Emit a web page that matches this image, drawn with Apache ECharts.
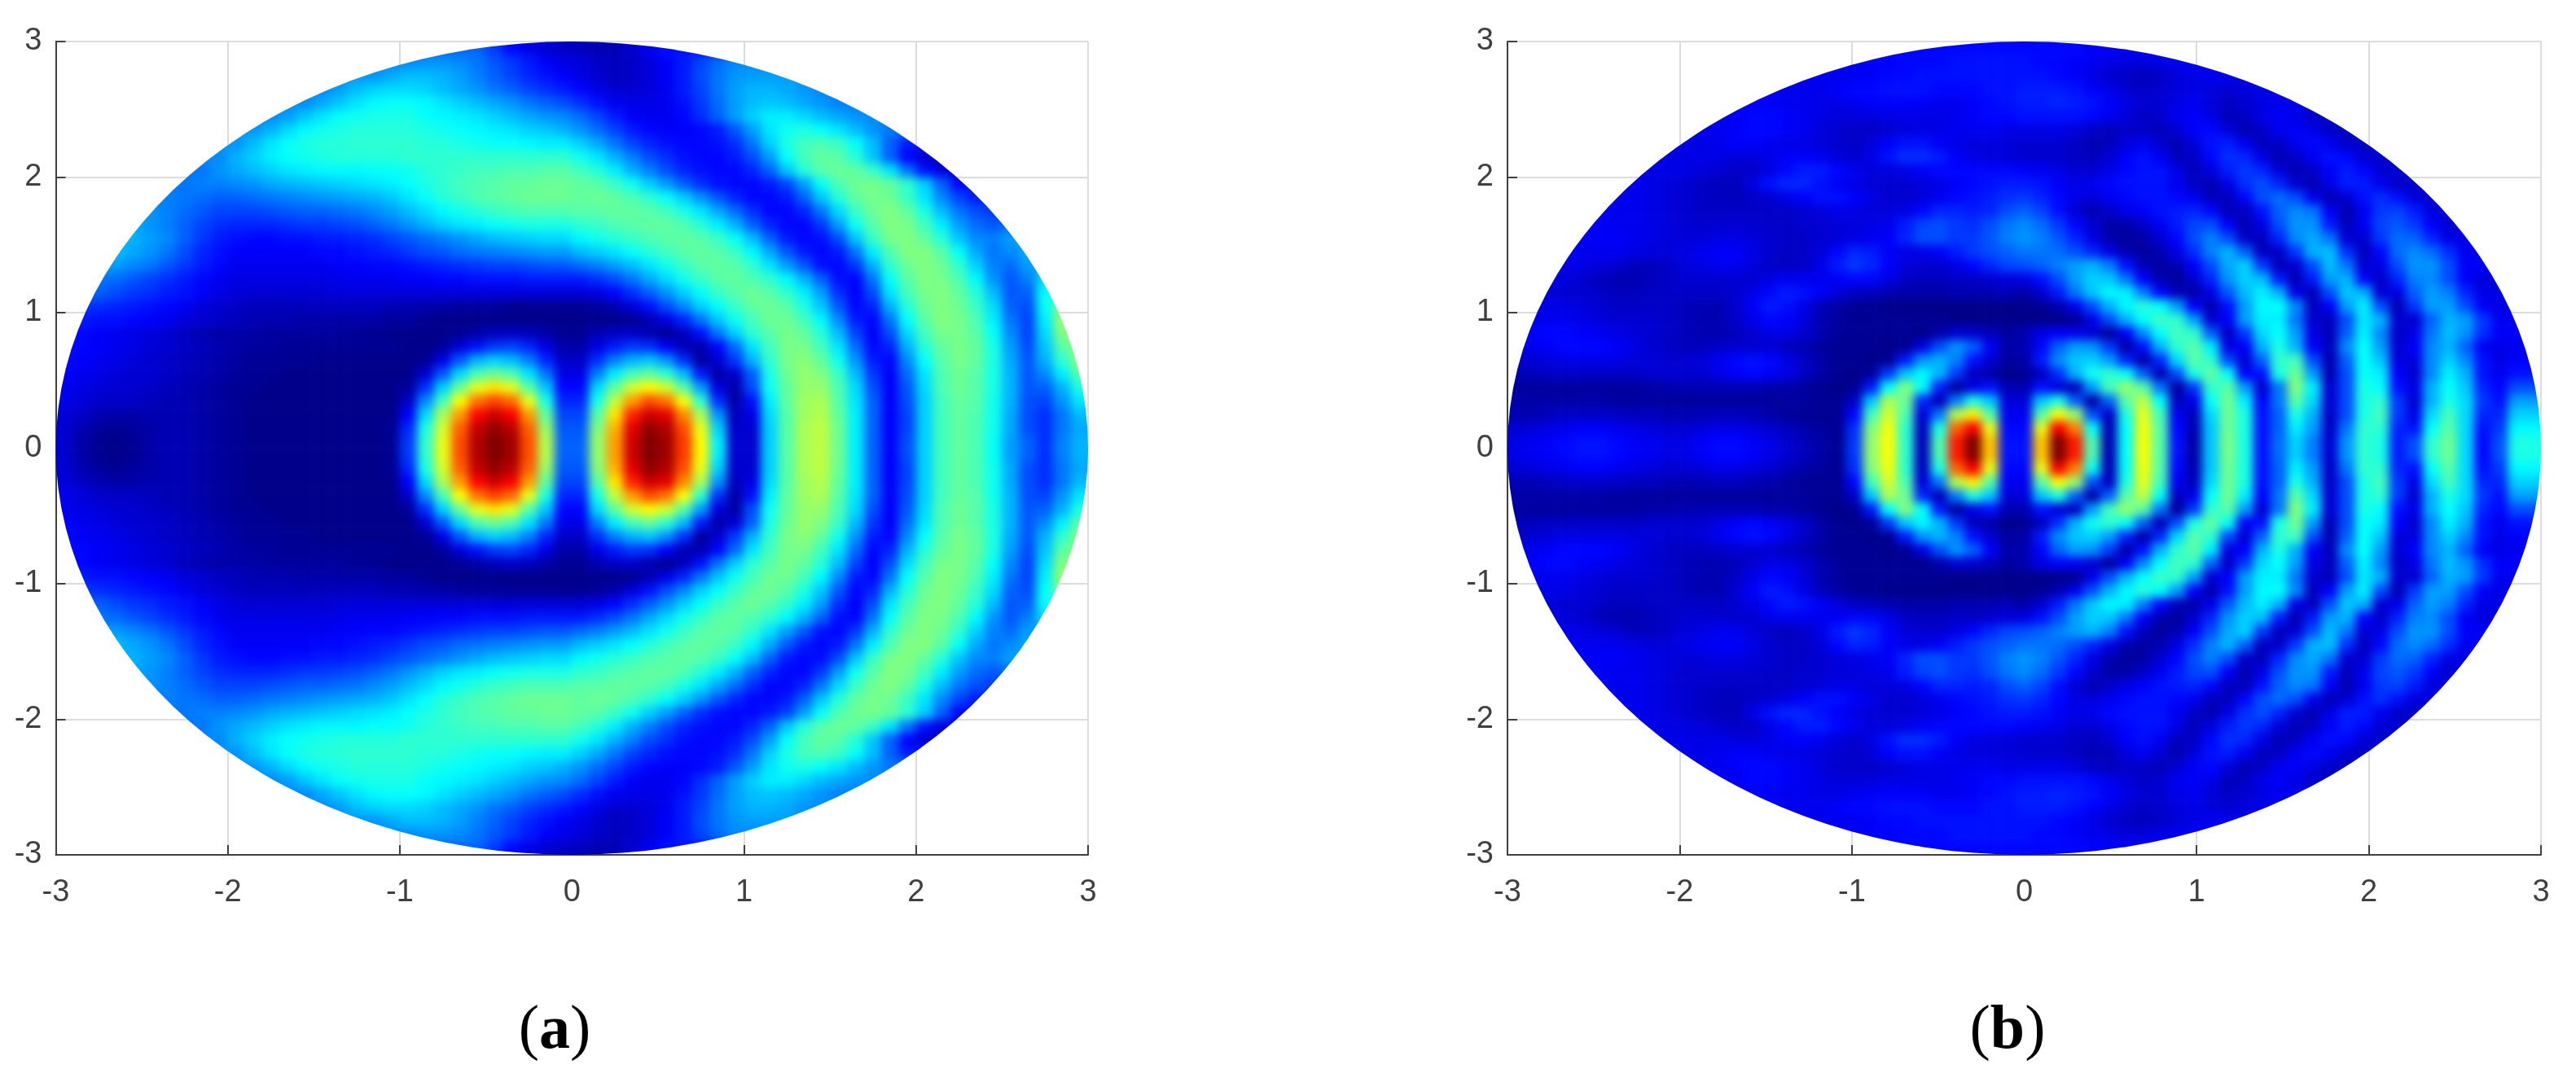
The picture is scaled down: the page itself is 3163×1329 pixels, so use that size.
<!DOCTYPE html>
<html>
<head>
<meta charset="utf-8">
<script src="https://cdn.jsdelivr.net/npm/echarts@6/dist/echarts.min.js"></script>
<style>
html, body { margin: 0; background: #fff; }
#axes, #heat { position: absolute; left: 0; top: 0; width: 3163px; height: 1329px; }
/* the field was read on a 0.1 lattice, the blur takes the cell edges away */
#heat { filter: blur(6px); }
</style>
</head>
<body>
<div id="axes"></div>
<div id="heat"></div>
<script>
// tick values of both axes
var ticks = [-3, -2, -1, 0, 1, 2, 3];
var panelNames = ['a', 'b'];

// field, 0 = navy ... 100 = dark red, cell size 0.1
// rows go from y=2.95 down to y=0.05, each row is [cells left of x=0, cells right of x=0]
// the lower half of both panels mirrors these rows
var rowsA = [
  [[22,18,13,10,8,7],[6,5,5,8,11,14]],
  [[26,27,27,26,24,21,18,15,12,10],[9,7,6,7,9,12,15,19,23,26]],
  [[27,29,31,31,30,28,25,22,19,16,14,12],[10,8,6,7,9,12,15,20,24,27,28,28]],
  [[26,28,31,33,34,34,33,31,29,27,24,22,19,17,15],[13,10,8,8,9,11,15,19,24,28,30,30,29,27,26]],
  [[26,29,32,35,37,38,38,37,35,33,31,29,27,24,22,20],[17,14,11,10,10,11,14,18,23,28,31,32,31,29,27,25]],
  [[26,28,32,35,38,39,40,40,40,38,37,36,35,33,31,29,27,26],[23,19,15,12,11,11,13,17,22,28,33,36,36,34,31,29,27,26]],
  [[27,30,34,37,39,40,41,41,41,41,40,39,38,37,36,35,33,32,30],[27,23,19,15,13,12,12,13,15,21,28,35,39,40,38,35,31,27,24]],
  [[27,31,35,38,40,41,41,42,42,42,42,41,41,40,39,38,38,37,36,36],[33,29,24,19,16,14,13,13,14,17,24,33,40,44,45,43,38,31,22,15]],
  [[26,30,33,36,38,39,40,41,41,41,41,42,42,42,42,42,42,42,42,42,42],[39,35,30,25,20,17,14,13,13,15,20,28,38,44,47,46,41,32,22,13,8]],
  [[24,27,29,31,33,35,36,37,37,37,38,38,39,41,42,43,44,44,45,45,46,46],[44,41,36,30,25,20,16,14,13,13,16,22,32,41,46,48,47,43,35,24,14,9]],
  [[24,25,25,26,27,29,30,31,32,33,34,35,36,38,40,42,44,45,46,47,47,48,48],[47,46,43,39,33,28,22,17,14,13,13,15,19,28,38,45,48,49,47,42,33,22,13]],
  [[25,24,23,22,22,23,24,25,26,27,28,29,30,32,35,38,41,43,45,46,47,48,48,48],[47,48,47,45,42,38,33,27,21,16,13,13,15,22,32,41,47,49,48,43,35,26,19,15]],
  [[27,25,23,21,19,19,19,20,21,22,22,23,24,26,28,31,34,37,39,41,43,44,45,45,45],[46,46,47,47,46,44,40,35,29,23,17,13,13,16,24,34,43,48,50,47,40,31,24,20,18]],
  [[29,27,25,22,19,17,16,16,16,17,18,18,19,20,22,24,27,30,33,35,36,38,39,40,40,40],[42,43,45,46,47,47,45,41,36,30,22,16,13,13,18,28,39,46,50,49,44,36,28,23,21,23]],
  [[30,28,26,22,18,15,14,13,13,14,14,15,15,16,17,19,21,23,25,27,29,31,32,33,34,34],[37,39,41,43,45,46,47,46,43,38,31,22,15,13,14,20,32,43,49,50,47,41,32,26,25,28]],
  [[31,29,27,24,20,16,14,12,12,12,12,12,13,13,14,15,16,18,20,21,23,24,25,26,27,28,28],[31,33,35,38,41,44,46,47,46,43,37,29,21,15,13,15,24,36,45,50,50,46,38,29,24,26,29]],
  [[28,26,24,21,18,15,13,11,11,11,11,11,11,12,12,13,13,14,15,16,17,18,19,19,20,21,21],[23,25,28,31,35,39,43,46,47,46,42,35,28,21,14,13,18,30,42,48,50,48,42,33,25,23,28]],
  [[24,23,21,19,17,15,13,11,10,10,10,10,10,10,10,11,11,11,12,12,13,13,14,14,14,15,15,15],[15,17,20,24,29,34,39,43,46,47,45,42,37,30,22,14,13,24,38,46,50,49,45,37,27,21,25,34]],
  [[22,20,18,17,15,14,12,10,9,8,8,8,8,8,9,9,9,9,9,9,9,9,9,9,9,9,9,9],[9,10,13,17,22,27,33,38,43,46,48,46,42,36,28,17,12,20,35,44,49,50,47,41,31,21,22,38]],
  [[18,17,16,15,14,13,11,9,8,7,6,6,6,6,6,6,6,6,5,5,4,4,3,3,3,2,2,2,2],[2,3,5,9,14,20,26,33,38,43,47,48,46,40,32,21,13,16,30,41,48,50,48,43,34,22,20,38,50]],
  [[15,14,14,13,12,11,9,8,7,6,5,5,5,4,4,4,4,4,3,3,2,1,1,1,1,1,1,1,1],[1,1,1,2,5,10,16,24,32,39,44,48,48,44,37,26,15,13,24,38,46,50,49,45,36,24,19,36,52]],
  [[13,12,11,10,9,8,6,5,4,4,4,3,3,3,3,3,2,2,1,1,1,1,2,4,6,7,6,4,2],[2,5,7,7,5,2,6,14,24,33,42,46,49,47,41,31,19,12,20,34,44,49,49,46,38,26,19,34,50]],
  [[14,13,12,11,10,9,8,7,6,5,4,3,3,2,2,2,2,2,2,2,1,1,3,9,14,18,19,16,10,4],[4,10,15,18,17,12,5,5,13,23,35,44,49,49,44,35,23,13,16,30,41,47,49,47,40,28,20,32,46,52]],
  [[13,12,11,10,9,8,7,6,5,4,3,2,2,2,2,1,1,1,1,1,1,2,10,21,30,33,31,25,16,7],[7,17,25,30,32,27,17,3,8,18,30,42,49,51,47,39,27,15,13,26,38,46,49,47,40,29,21,30,42,50]],
  [[12,11,10,9,8,8,7,6,5,4,3,2,2,1,1,1,1,1,1,1,1,8,21,34,45,48,45,35,24,10],[10,25,36,44,47,42,31,15,4,8,22,40,48,52,50,43,31,18,12,23,35,45,48,46,40,30,21,26,36,46]],
  [[11,10,9,8,8,7,6,5,4,3,2,2,1,1,1,1,1,1,1,1,3,17,33,48,60,65,60,46,32,13],[13,34,47,58,63,58,46,28,9,4,20,39,47,52,52,45,34,20,12,21,34,45,48,46,40,30,21,22,30,40]],
  [[10,9,7,7,7,6,5,5,4,3,2,1,1,1,1,1,1,1,1,1,7,26,44,62,76,81,77,60,40,16],[16,40,56,72,80,76,62,42,17,4,14,36,47,53,54,46,35,22,12,20,33,44,47,46,39,30,20,19,27,35]],
  [[9,7,5,4,4,5,5,5,4,3,2,1,1,1,1,1,1,1,1,1,12,34,54,72,87,92,88,72,47,19],[19,46,65,84,92,90,74,54,27,6,10,34,46,53,55,47,36,22,12,19,33,44,47,45,39,29,20,17,24,31]],
  [[8,5,3,2,3,4,5,5,4,3,2,1,1,1,1,1,1,1,1,2,16,40,58,78,93,98,94,78,52,21],[21,50,70,90,98,95,80,60,33,7,8,33,46,54,56,48,36,22,12,19,33,44,47,45,39,29,20,17,24,29]],
  [[8,4,2,1,2,4,5,5,4,3,2,1,1,1,1,1,1,1,1,2,18,42,60,80,95,100,97,80,55,22],[22,52,72,92,100,97,82,63,36,8,8,33,46,54,56,48,36,22,12,20,33,44,47,45,38,28,22,17,25,30]]
];

var rowsB = [
  [[13,13,13,13,13,13],[13,13,13,13,12,12]],
  [[12,12,12,13,13,13,14,14,14,14],[14,13,13,12,11,10,9,9,10,11]],
  [[11,11,11,12,13,13,14,14,14,14,14,14],[14,14,13,12,10,8,7,6,7,9,10,11]],
  [[12,11,11,11,12,13,13,14,14,14,13,13,13,14,14],[15,15,15,14,12,10,8,7,8,9,10,9,8,9,10]],
  [[12,12,11,11,10,10,11,12,12,12,12,11,11,12,13,14],[15,15,16,15,14,12,10,8,8,10,11,9,7,8,10,11]],
  [[12,12,13,13,12,11,10,9,9,9,10,10,10,10,11,12,13,13],[14,14,14,14,13,11,9,7,8,11,12,10,6,7,10,12,10,7]],
  [[11,11,12,13,13,12,11,9,8,7,7,8,9,10,10,11,11,11,10],[10,10,10,9,7,6,7,7,6,8,12,13,9,5,7,11,12,10,7]],
  [[10,10,11,12,12,11,10,10,9,8,7,9,12,14,14,12,10,9,9,9],[8,8,8,7,5,6,9,11,8,5,9,14,15,11,6,7,11,13,11,7]],
  [[10,10,10,10,9,9,10,12,12,11,9,8,10,14,17,17,15,12,10,9,9],[8,8,8,7,6,8,12,14,11,6,7,13,17,16,10,5,7,11,14,13,8]],
  [[10,10,10,9,8,7,7,10,13,15,15,13,11,9,9,10,12,13,13,13,13,13],[12,11,10,8,8,10,13,14,14,10,6,9,15,18,16,9,5,7,12,15,13,8]],
  [[11,10,9,8,7,6,6,10,14,16,16,14,12,10,9,8,8,9,10,12,13,14,15],[15,14,12,10,11,13,14,14,14,11,7,5,10,17,20,16,8,5,10,15,15,11,7]],
  [[11,11,10,9,8,7,6,6,7,8,10,12,14,14,12,10,8,8,9,11,13,14,15,17],[18,16,13,10,9,11,13,14,14,13,11,6,6,13,20,23,20,11,5,8,14,17,14,9]],
  [[12,11,11,10,9,8,7,7,7,7,7,7,8,9,10,10,9,9,10,13,16,16,15,16,20],[22,19,14,8,5,7,10,12,14,15,16,13,6,6,14,22,26,24,12,5,11,18,19,15,9]],
  [[13,12,11,11,10,9,8,8,8,8,8,7,7,8,8,9,9,10,11,15,19,20,18,17,20,24],[26,23,18,13,8,4,4,7,11,15,19,20,12,5,10,20,27,27,15,6,11,19,21,18,12,8]],
  [[12,12,12,11,10,9,9,9,10,10,9,8,7,7,8,9,10,11,12,16,20,20,18,18,21,25],[27,25,21,16,10,5,3,4,8,13,20,25,20,7,6,16,26,29,24,8,8,18,23,22,16,10]],
  [[11,11,11,11,10,9,9,10,11,12,12,10,8,7,7,9,13,16,15,12,10,10,12,15,18,20,22],[24,24,23,20,16,10,5,3,5,10,17,25,30,22,6,7,18,30,31,17,6,13,23,26,23,17,11]],
  [[10,10,9,8,6,6,7,9,10,11,11,9,7,6,7,10,15,18,16,12,9,8,8,10,13,16,19],[20,22,25,28,30,25,14,6,3,5,12,20,29,33,18,6,8,20,31,24,8,10,20,27,27,20,12]],
  [[10,9,8,6,5,5,6,7,8,8,8,8,8,10,11,11,11,12,13,13,10,7,6,6,7,7,8,9],[10,14,20,28,33,32,24,12,5,3,8,16,27,33,31,15,5,15,28,30,13,7,16,25,26,20,12,9]],
  [[9,8,8,7,6,6,7,7,7,7,7,8,10,13,15,14,12,9,7,6,5,4,4,4,5,5,5,6],[4,8,15,24,32,37,36,25,13,6,4,10,21,31,36,30,10,6,20,32,30,8,10,22,28,25,16,10]],
  [[10,10,10,9,8,7,7,7,7,6,5,5,8,12,15,14,10,6,4,2,2,1,1,1,1,1,1,1,1],[1,2,5,11,20,30,37,41,38,28,12,5,14,28,37,38,26,6,12,28,36,20,5,18,28,28,20,12,10]],
  [[11,11,11,10,9,8,8,8,7,6,5,5,7,10,13,12,9,5,3,2,2,2,2,2,2,1,1,1,1],[1,1,1,2,10,20,30,38,43,42,28,8,12,28,36,36,24,8,6,20,35,30,8,8,22,30,28,18,11]],
  [[12,13,13,12,11,10,9,8,7,6,5,5,6,8,10,10,8,5,3,2,2,2,2,1,4,8,8,6,3],[5,10,12,11,8,3,12,26,38,44,42,22,7,18,34,38,28,10,6,22,36,26,7,10,24,31,27,17,12]],
  [[10,11,12,13,13,13,12,10,8,7,6,6,7,8,8,8,6,5,3,2,2,2,1,2,10,20,27,22,12,4],[5,13,22,28,27,18,4,14,30,42,46,36,10,12,30,40,30,12,6,26,38,28,8,12,26,30,22,12,10,11]],
  [[7,8,9,10,10,10,10,9,9,8,8,9,11,13,14,13,10,7,4,2,2,1,2,15,27,30,25,14,8,3],[4,15,26,32,33,28,16,4,16,34,46,42,20,8,22,42,44,20,5,22,38,32,9,9,26,33,26,14,10,12]],
  [[5,6,7,7,7,7,7,7,8,8,8,8,10,12,13,12,10,7,4,2,1,3,18,32,37,30,18,6,4,1],[2,6,17,30,39,42,38,22,5,20,40,47,38,12,14,40,48,28,5,20,38,36,12,8,26,36,30,14,11,14]],
  [[3,3,3,3,3,3,3,3,4,4,5,5,5,5,5,4,4,3,2,1,2,15,38,50,38,15,3,10,14,5],[5,14,9,6,28,44,52,46,24,3,18,42,46,28,8,24,50,36,8,20,40,38,14,10,30,38,32,16,13,20]],
  [[4,4,4,4,4,4,3,3,3,3,3,3,3,3,3,3,3,3,2,2,7,32,54,48,16,5,25,40,32,9],[9,32,40,22,4,22,46,56,38,6,10,38,48,36,12,24,46,34,8,20,40,42,18,8,30,40,34,18,14,28]],
  [[5,5,6,7,7,7,7,6,6,5,5,5,6,6,5,4,3,2,2,2,13,44,58,45,9,24,55,64,46,11],[11,46,62,52,20,7,40,60,44,11,6,34,48,40,14,22,40,30,7,20,40,44,18,10,34,44,34,16,16,33]],
  [[8,9,10,11,12,12,11,10,9,8,8,9,10,10,9,8,6,4,3,2,17,50,61,42,6,40,78,88,60,13],[13,60,88,75,38,5,38,61,46,13,5,32,48,40,14,22,36,28,7,24,42,42,16,14,38,46,34,14,18,37]],
  [[10,11,12,13,14,14,13,12,11,10,10,12,13,13,12,10,8,6,4,2,18,52,62,42,6,45,85,100,68,14],[14,68,100,85,45,5,38,62,46,14,4,32,49,40,14,23,33,25,8,27,42,40,15,20,42,48,34,13,20,40]]
];

// colour ramp of the picture (jet)
var jet = ['#000080', '#0000ff', '#0080ff', '#00ffff', '#80ff80', '#ffff00', '#ff8000', '#ff0000', '#800000'];

var plotTop = 51, plotHeight = 999;
var plotLeft = [68.5, 1851], plotWidth = [1267.5, 1269];
var PAD = 3; // spare cells around the plot so the blur does not fade at the rim
var CELLS = 60;

function lattice() {
  var res = [];
  for (var i = 0; i < CELLS + 2 * PAD; i++) res.push(String(i));
  return res;
}

function cellsFrom(rows) {
  var out = [];
  for (var j = 0; j < CELLS + 2 * PAD; j++) {
    var yi = j - PAD;
    var u = Math.min(Math.max(yi < 30 ? yi : CELLS - 1 - yi, 0), rows.length - 1);
    var L = rows[u][0], R = rows[u][1];
    for (var i = 0; i < CELLS + 2 * PAD; i++) {
      var c = i - PAD;
      var v = c < 30 ? L[Math.max(L.length - (30 - c), 0)] : R[Math.min(c - 30, R.length - 1)];
      out.push([i, j, v]);
    }
  }
  return out;
}

var font = 'Liberation Sans';
var ink = '#404040';

var axesChart = echarts.init(document.getElementById('axes'));
axesChart.setOption({
  animation: false,
  title: panelNames.map(function (n, k) {
    return {
      text: '{p|(}{l|' + n + '}{p|)}',
      left: k === 0 ? 676 : 2460,
      top: 1224,
      textAlign: 'center',
      textStyle: {
        fontWeight: 'normal',
        rich: {
          p: { fontFamily: 'Liberation Serif', fontSize: 76, fontWeight: 'normal', color: '#000' },
          l: { fontFamily: 'Liberation Serif', fontSize: 76, fontWeight: 'bold', color: '#000' }
        }
      }
    };
  }),
  grid: panelNames.map(function (n, k) {
    return { left: plotLeft[k], top: plotTop, width: plotWidth[k], height: plotHeight };
  }),
  xAxis: panelNames.map(function (n, k) {
    return {
      type: 'value', gridIndex: k, min: ticks[0], max: ticks[ticks.length - 1], interval: 1,
      axisLine: { onZero: false, lineStyle: { color: ink, width: 2 } },
      axisTick: { inside: true, length: 12, lineStyle: { color: ink, width: 2 } },
      splitLine: { lineStyle: { color: '#dcdcdc', width: 2 } },
      axisLabel: { fontFamily: font, fontSize: 38, color: ink, margin: 28 }
    };
  }),
  yAxis: panelNames.map(function (n, k) {
    return {
      type: 'value', gridIndex: k, min: ticks[0], max: ticks[ticks.length - 1], interval: 1,
      axisLine: { onZero: false, show: true, lineStyle: { color: ink, width: 2 } },
      axisTick: { show: true, inside: true, length: 12, lineStyle: { color: ink, width: 2 } },
      splitLine: { lineStyle: { color: '#dcdcdc', width: 2 } },
      axisLabel: { fontFamily: font, fontSize: 38, color: ink, margin: 17, padding: [10, 0, 0, 0] }
    };
  }),
  series: []
});

var heatChart = echarts.init(document.getElementById('heat'));
heatChart.setOption({
  animation: false,
  visualMap: { show: false, min: 0, max: 100, seriesIndex: [0, 1], inRange: { color: jet } },
  grid: panelNames.map(function (n, k) {
    var cw = plotWidth[k] / CELLS, ch = plotHeight / CELLS;
    return {
      left: plotLeft[k] - PAD * cw, top: plotTop - PAD * ch,
      width: plotWidth[k] + 2 * PAD * cw, height: plotHeight + 2 * PAD * ch
    };
  }),
  xAxis: panelNames.map(function (n, k) {
    return { type: 'category', gridIndex: k, data: lattice(), show: false };
  }),
  yAxis: panelNames.map(function (n, k) {
    return { type: 'category', gridIndex: k, data: lattice(), show: false };
  }),
  series: [rowsA, rowsB].map(function (rows, k) {
    return {
      type: 'heatmap', xAxisIndex: k, yAxisIndex: k, data: cellsFrom(rows),
      progressive: 0, silent: true, itemStyle: { borderWidth: 0 }
    };
  })
});

// the solved domain is the ellipse inside the axes box
var clip = panelNames.map(function (n, k) {
  var c = axesChart.convertToPixel({ gridIndex: k }, [0, 0]);
  var e = axesChart.convertToPixel({ gridIndex: k }, [3, 3]);
  var rx = e[0] - c[0], ry = c[1] - e[1];
  return 'M' + (c[0] - rx) + ' ' + c[1] +
    'A' + rx + ' ' + ry + ' 0 1 0 ' + (c[0] + rx) + ' ' + c[1] +
    'A' + rx + ' ' + ry + ' 0 1 0 ' + (c[0] - rx) + ' ' + c[1] + 'Z';
}).join('');
document.getElementById('heat').style.clipPath = "path('" + clip + "')";
</script>
</body>
</html>
